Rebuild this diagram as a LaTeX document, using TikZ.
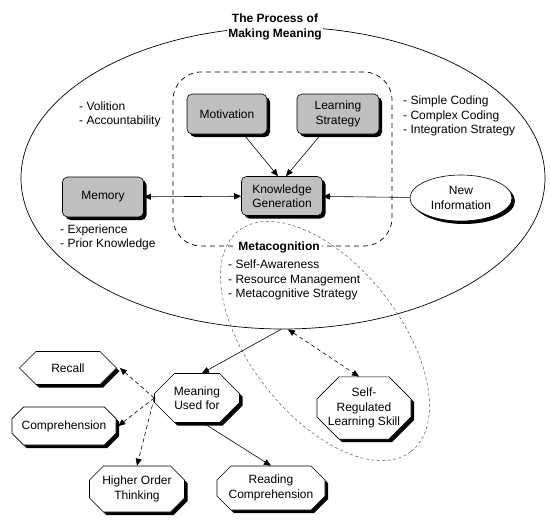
\documentclass[tikz,border=0pt]{standalone}
\usepackage{fontspec}
\setmainfont{Liberation Sans}
\usetikzlibrary{arrows.meta,shapes.geometric,shapes.misc,shapes.symbols,shadows,positioning}

\tikzset{
	blackshadow/.style={drop shadow={shadow xshift=3pt,shadow yshift=-3pt,fill=black,opacity=1}},
	graybox/.style={draw,rectangle,rounded corners=5pt,fill=gray!50,align=center,line width=0.6pt,blackshadow,inner sep=0pt},
	octbox/.style={draw,chamfered rectangle,chamfered rectangle sep=#1,fill=white,align=center,line width=0.6pt,blackshadow,inner sep=0pt},
	listtext/.style={anchor=west,align=left,inner sep=0pt},
	arr/.style={-{Triangle[length=7pt,width=6pt]},line width=0.6pt},
	twoarr/.style={{Triangle[length=7pt,width=6pt]}-{Triangle[length=7pt,width=6pt]},line width=0.6pt},
	dashes/.style={dash pattern=on 4pt off 3pt},
}

\begin{document}
\begin{tikzpicture}[x=1pt,y=-1pt,every node/.style={font=\fontsize{12}{14.5}\selectfont}]
	\useasboundingbox (0,0) rectangle (550,525);
	% the big ellipse and its title
	\node[draw,ellipse,line width=0.7pt,minimum width=524pt,minimum height=302pt] (process) at (283,178) {};
	\node[fill=white,inner sep=1pt,align=center,font=\fontsize{12}{14.5}\selectfont\bfseries] (title) at (275,27) {The Process of\\Making Meaning};
	% metacognition ellipse
	\draw[gray!70!black,line width=0.5pt,dash pattern=on 3pt off 2.5pt,shift={(325,341)},rotate=-52] (0,0) ellipse [x radius=140pt,y radius=75pt];
	% dashed frame
	\draw[line width=0.7pt,dash pattern=on 5pt off 4pt,rounded corners=28pt] (173,72) rectangle (392,246);
	\node[fill=white,inner sep=2pt,font=\fontsize{12}{14.5}\selectfont\bfseries] (meta) at (279,247) {Metacognition};
	%%%%%
	\node[graybox,minimum width=80pt,minimum height=40pt] (motivation) at (227,114) {Motivation};
	\node[graybox,minimum width=82pt,minimum height=40pt] (learning) at (338,114) {Learning\\Strategy};
	\node[graybox,minimum width=81pt,minimum height=39pt] (knowledge) at (282,196) {Knowledge\\Generation};
	\node[graybox,minimum width=81pt,minimum height=40pt] (memory) at (103,197) {Memory};
	\node[draw,ellipse,fill=white,line width=0.6pt,blackshadow,inner sep=0pt,align=center,minimum width=102pt,minimum height=46pt] (newinfo) at (461,198) {New\\Information};
	%%%%%
	\node[listtext] (volition) at (79,114.5) {- Volition\\- Accountability};
	\node[listtext] (coding) at (403,116) {- Simple Coding\\- Complex Coding\\- Integration Strategy};
	\node[listtext] (experience) at (60,237.5) {- Experience\\- Prior Knowledge};
	\node[listtext] (awareness) at (228,280) {- Self-Awareness\\- Resource Management\\- Metacognitive Strategy};
	%%%%%
	\node[octbox=10pt,minimum width=85pt,minimum height=49pt] (meaning) at (197,398) {Meaning\\Used for};
	\node[octbox=11pt,minimum width=87pt,minimum height=55pt] (selfreg) at (364,408) {Self-\\Regulated\\Learning Skill};
	\node[draw,signal,signal to=west and east,fill=white,line width=0.6pt,blackshadow,inner sep=0pt,minimum width=97pt,minimum height=33pt] (recall) at (68,368) {Recall};
	\node[octbox=6pt,minimum width=104pt,minimum height=38pt] (comprehension) at (64,426) {Comprehension};
	\node[octbox=7pt,minimum width=95pt,minimum height=46pt] (higher) at (137,489) {Higher Order\\Thinking};
	\node[octbox=7pt,minimum width=108pt,minimum height=44pt] (reading) at (271,488) {Reading\\Comprehension};
	%%%%%
	\draw[arr] (motivation) -- ([xshift=-4pt]knowledge.north);
	\draw[arr] (learning) -- ([xshift=4pt]knowledge.north);
	\draw[twoarr] (memory) -- (knowledge);
	\draw[arr] (newinfo) -- (knowledge);
	\draw[arr] ([xshift=-2pt]process.south) -- ([xshift=5pt]meaning.north);
	\draw[twoarr,dashes] ([xshift=5pt]process.south) -- ([xshift=-5pt]selfreg.north);
	\draw[arr,dashes] (meaning.west) -- ([xshift=3pt]recall.east);
	\draw[arr,dashes] (meaning.west) -- ([xshift=2pt]comprehension.east);
	\draw[arr,dashes] (meaning.west) -- (higher.north);
	\draw[arr] ([xshift=6pt]meaning.south) -- (reading.north);
\end{tikzpicture}
\end{document}
